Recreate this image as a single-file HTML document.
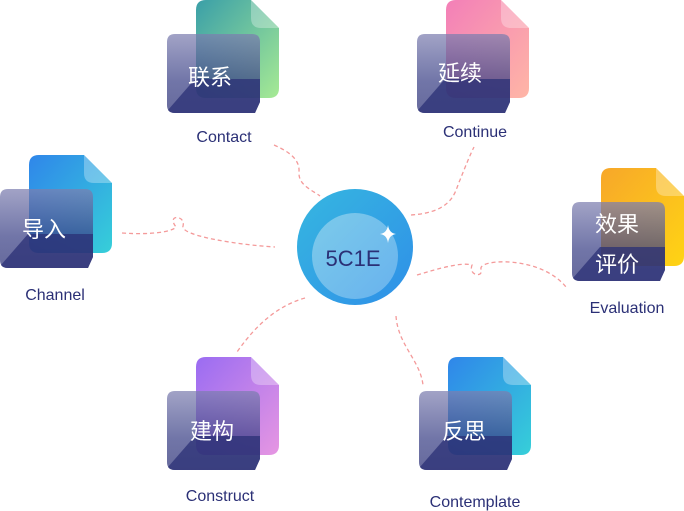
<!DOCTYPE html>
<html><head><meta charset="utf-8"><style>
html,body{margin:0;padding:0;background:#fff;}
svg{display:block;}
text{font-family:"Liberation Sans","Noto Sans CJK SC",sans-serif;}
</style></head><body>
<svg width="684" height="511" viewBox="0 0 684 511" xmlns="http://www.w3.org/2000/svg">
<defs>
<linearGradient id="gC" x1="0" y1="0" x2="1" y2="1"><stop offset="0" stop-color="#3a9fa8"/><stop offset="1" stop-color="#a6ea94"/></linearGradient>
<linearGradient id="gN" x1="0" y1="0" x2="1" y2="1"><stop offset="0" stop-color="#f37fb8"/><stop offset="1" stop-color="#ffb6a6"/></linearGradient>
<linearGradient id="gH" x1="0" y1="0" x2="1" y2="1"><stop offset="0" stop-color="#2f86ea"/><stop offset="1" stop-color="#36cfd9"/></linearGradient>
<linearGradient id="gE" x1="0" y1="0" x2="1" y2="1"><stop offset="0" stop-color="#f7a72a"/><stop offset="1" stop-color="#ffd414"/></linearGradient>
<linearGradient id="gS" x1="0" y1="0" x2="1" y2="1"><stop offset="0" stop-color="#9a6cf2"/><stop offset="1" stop-color="#e696e2"/></linearGradient>
<linearGradient id="gF" x1="0" y1="0" x2="0" y2="1"><stop offset="0" stop-color="#7d7fb0"/><stop offset="0.6" stop-color="#3a4086"/><stop offset="1" stop-color="#2b3076"/></linearGradient>
<linearGradient id="gR" x1="0" y1="0" x2="1" y2="1"><stop offset="0" stop-color="#36b7e0"/><stop offset="1" stop-color="#2f8fe8"/></linearGradient>
<linearGradient id="gI" x1="0" y1="0" x2="1" y2="1"><stop offset="0" stop-color="#7ccbea"/><stop offset="1" stop-color="#68b2ee"/></linearGradient>
<g id="back">
<path d="M10,0 H55 L83,28 V88 Q83,98 73,98 H10 Q0,98 0,88 V10 Q0,0 10,0 Z"/>
</g>
<g id="fold"><path d="M55,0 L83,28 H65 Q55,28 55,18 Z" fill="#fff" opacity="0.3"/></g>
<g id="front">
<path d="M8,0 H85 Q93,0 93,8 V68 L88,79 H8 Q0,79 0,71 V8 Q0,0 8,0 Z" fill="url(#gF)" opacity="0.72"/>
<path d="M28,45 H93 V68 L88,79 H8 Q3,79 1,76 Z" fill="#2b3076" opacity="0.75"/>
</g>
</defs>

<g fill="none" stroke="#f49a9a" stroke-width="1.3" stroke-dasharray="4,3">
<path d="M274,145 C290,152 300,160 299,172 C298,185 312,190 320,196"/>
<path d="M411,215 C455,212 455,190 460,180 C466,165 470,155 474,147"/>
<path d="M417,275 C440,268 462,262 472,265 C468,276 484,278 481,269 C478,259 540,255 566,287"/>
<path d="M396,316 C398,345 420,360 423,385"/>
<path d="M122,233 C150,235 172,232 176,227 C166,214 186,215 183,226 C180,236 240,245 275,247"/>
<path d="M305,298 C280,305 258,322 237,352"/>
</g>

<!-- Contact -->
<g transform="translate(196,0)"><use href="#back" fill="url(#gC)"/><use href="#fold"/></g>
<g transform="translate(167,34)"><use href="#front"/></g>
<text x="210" y="85" font-size="22" fill="#fff" text-anchor="middle">联系</text>
<text x="224" y="142" font-size="16" fill="#2b3076" text-anchor="middle">Contact</text>

<!-- Continue -->
<g transform="translate(446,0)"><use href="#back" fill="url(#gN)"/><use href="#fold"/></g>
<g transform="translate(417,34)"><use href="#front"/></g>
<text x="460" y="81" font-size="22" fill="#fff" text-anchor="middle">延续</text>
<text x="475" y="137" font-size="16" fill="#2b3076" text-anchor="middle">Continue</text>

<!-- Channel -->
<g transform="translate(29,155)"><use href="#back" fill="url(#gH)"/><use href="#fold"/></g>
<g transform="translate(0,189)"><use href="#front"/></g>
<text x="44" y="237" font-size="22" fill="#fff" text-anchor="middle">导入</text>
<text x="55" y="300" font-size="16" fill="#2b3076" text-anchor="middle">Channel</text>

<!-- Evaluation -->
<g transform="translate(601,168)"><use href="#back" fill="url(#gE)"/><use href="#fold"/></g>
<g transform="translate(572,202)"><use href="#front"/></g>
<text x="617" y="232" font-size="22" fill="#fff" text-anchor="middle">效果</text>
<text x="617" y="272" font-size="22" fill="#fff" text-anchor="middle">评价</text>
<text x="627" y="313" font-size="16" fill="#2b3076" text-anchor="middle">Evaluation</text>

<!-- Construct -->
<g transform="translate(196,357)"><use href="#back" fill="url(#gS)"/><use href="#fold"/></g>
<g transform="translate(167,391)"><use href="#front"/></g>
<text x="212" y="439" font-size="22" fill="#fff" text-anchor="middle">建构</text>
<text x="220" y="501" font-size="16" fill="#2b3076" text-anchor="middle">Construct</text>

<!-- Contemplate -->
<g transform="translate(448,357)"><use href="#back" fill="url(#gH)"/><use href="#fold"/></g>
<g transform="translate(419,391)"><use href="#front"/></g>
<text x="464" y="439" font-size="22" fill="#fff" text-anchor="middle">反思</text>
<text x="475" y="507" font-size="16" fill="#2b3076" text-anchor="middle">Contemplate</text>

<!-- center -->
<circle cx="355" cy="247" r="58" fill="url(#gR)"/>
<circle cx="355" cy="256" r="43" fill="url(#gI)"/>
<path d="M388,225 Q389,233 396,234 Q389,235 388,243 Q387,235 380,234 Q387,233 388,225 Z" fill="#fff"/>
<text x="353" y="266" font-size="22" fill="#2b3076" text-anchor="middle">5C1E</text>
</svg>
</body></html>
